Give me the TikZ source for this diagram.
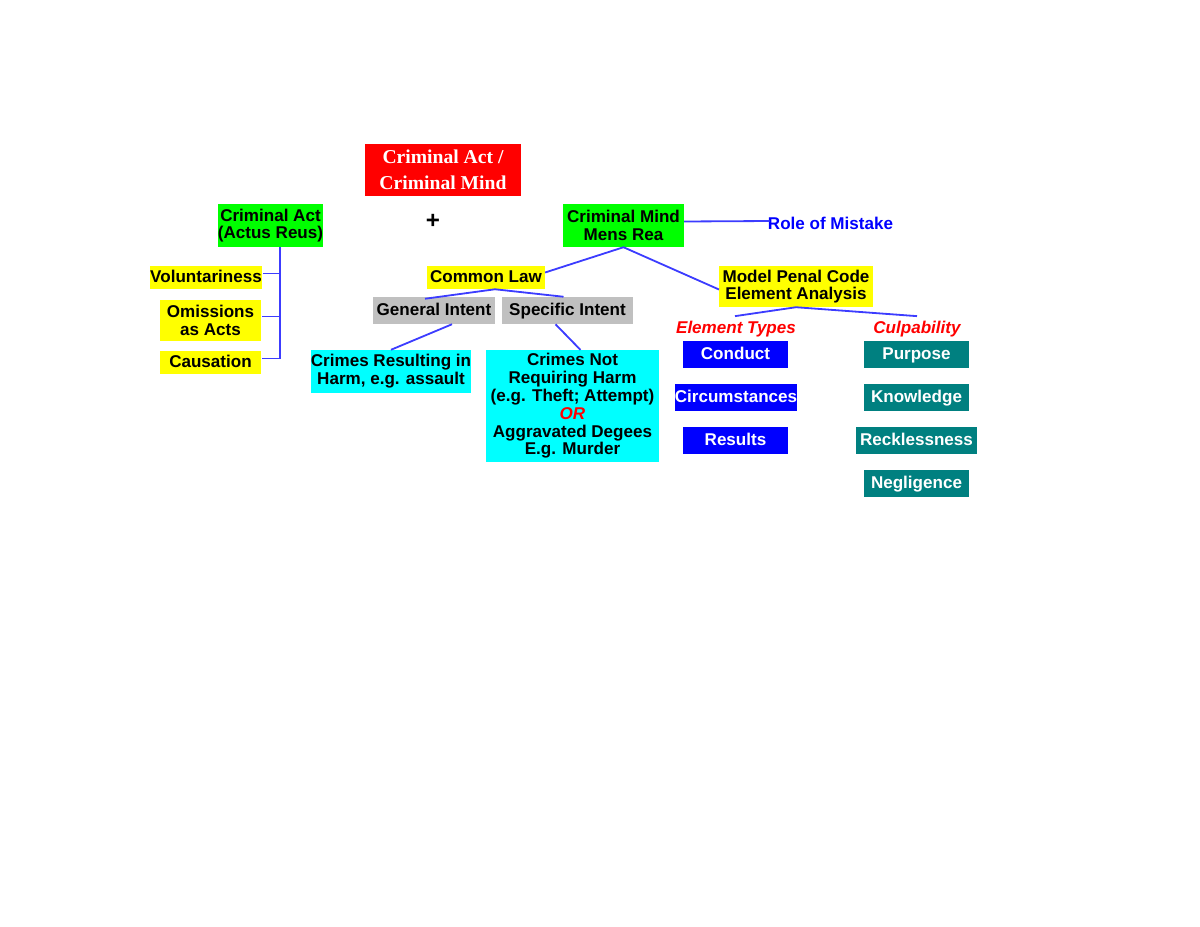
\documentclass[tikz,border=0pt]{standalone}
\usepackage{fontspec}
\setmainfont{Liberation Sans}
\newfontfamily\titlefont{Liberation Serif}
\usetikzlibrary{calc}
\definecolor{actgreen}{RGB}{0,255,0}
\definecolor{lawyellow}{RGB}{255,255,0}
\definecolor{harmcyan}{RGB}{0,255,255}
\definecolor{intgray}{RGB}{192,192,192}
\definecolor{titlered}{RGB}{255,0,0}
\definecolor{typeblue}{RGB}{0,0,255}
\definecolor{culpteal}{RGB}{0,128,128}
\definecolor{linkblue}{RGB}{60,60,255}
\tikzset{
  lbl/.style={font=\fontsize{11.3}{11.8}\selectfont\bfseries, align=center, inner sep=0pt},
  box/.style 2 args={lbl, minimum width=#1*0.66pt, minimum height=#2*0.66pt},
  oneline/.style={text height=9pt, text depth=3pt},
  link/.style={draw=linkblue, line width=1.2pt},
}

\begin{document}
\begin{tikzpicture}[x=0.02328cm, y=-0.02328cm]
	\useasboundingbox (0,0) rectangle (1200,927);
	\node (title) [box={156}{53}, fill=titlered, text=white, font=\titlefont\fontsize{13}{17}\selectfont\bfseries] at (443,170) {Criminal Act /\\Criminal Mind};
	\node (plus) [lbl, font=\fontsize{16}{16}\selectfont\bfseries] at (433,221) {+};
	\node (ca) [box={105}{43}, fill=actgreen] at (270.5,225.5) {Criminal Act\\(Actus Reus)};
	\node (cm) [box={121}{43}, fill=actgreen] at (623.5,225.5) {Criminal Mind\\Mens Rea};
	\node (rom) [lbl, oneline, text=typeblue] at (830.5,225) {Role of Mistake};
	% actus reus
	\node (vol) [box={110}{23}, oneline, fill=lawyellow] at (206,277.5) {Voluntariness};
	\node (om) [box={101}{41}, fill=lawyellow] at (210.5,320.5) {Omissions\\as Acts};
	\node (cau) [box={101}{23}, oneline, fill=lawyellow] at (210.5,362.5) {Causation};
	% mens rea
	\node (cl) [box={118}{23}, oneline, fill=lawyellow] at (486,277.5) {Common Law};
	\node (mpc) [box={154}{41}, fill=lawyellow] at (796,286.5) {Model Penal Code\\Element Analysis};
	\node (gi) [box={122}{27}, oneline, fill=intgray] at (434,310.5) {General Intent};
	\node (si) [box={131}{27}, oneline, fill=intgray] at (567.5,310.5) {Specific Intent};
	\node (cr) [box={156}{43}, fill=harmcyan] at (391,371.5) {Crimes Resulting in\\Harm, e.g. assault};
	\node (cn) [box={173}{112}, fill=harmcyan] at (572.5,406) {Crimes Not\\Requiring Harm\\(e.g. Theft; Attempt)\\\textcolor{titlered}{\itshape OR}\\Aggravated Degees\\E.g. Murder};
	% model penal code
	\node (et) [lbl, oneline, text=titlered, font=\fontsize{11.3}{11.8}\selectfont\bfseries\itshape] at (736,328.5) {Element Types};
	\node (cul) [lbl, oneline, text=titlered, font=\fontsize{11.3}{11.8}\selectfont\bfseries\itshape] at (917,328.5) {Culpability};
	\node (cond) [box={105}{27}, oneline, fill=typeblue, text=white] at (735.5,354.5) {Conduct};
	\node (circ) [box={122}{27}, oneline, fill=typeblue, text=white] at (736,397.5) {Circumstances};
	\node (res) [box={105}{27}, oneline, fill=typeblue, text=white] at (735.5,440.5) {Results};
	\node (pur) [box={105}{27}, oneline, fill=culpteal, text=white] at (916.5,354.5) {Purpose};
	\node (know) [box={105}{27}, oneline, fill=culpteal, text=white] at (916.5,397.5) {Knowledge};
	\node (reck) [box={121}{27}, oneline, fill=culpteal, text=white] at (916.5,440.5) {Recklessness};
	\node (neg) [box={105}{27}, oneline, fill=culpteal, text=white] at (916.5,483.5) {Negligence};
	% connectors
	\coordinate (trunk) at ($(ca.south)+(9.5,0)$);
	\foreach \n in {vol,om,cau}
	  \draw[link] ($(\n.east)+(1,-4)$) -| (trunk);
	\draw[link] ($(cm.east)+(0,-4)$) -- ($(rom.west)+(2,-4)$);
	\draw[link] ($(cl.east)+(0,-5)$) -- (cm.south) -- ($(mpc.west)+(0,3)$);
	\draw[link] ($(gi.north)+(-9,2)$) -- ($(cl.south)+(9,0)$) -- ($(si.north)+(-4,0)$);
	\draw[link] ($(gi.south)+(18,0)$) -- (cr.north);
	\draw[link] ($(si.south)+(-12,0)$) -- ($(cn.north)+(8,0)$);
	\draw[link] ($(et.north)+(-1,-3)$) -- (mpc.south) -- ($(cul.north)+(0,-3)$);
\end{tikzpicture}
\end{document}
